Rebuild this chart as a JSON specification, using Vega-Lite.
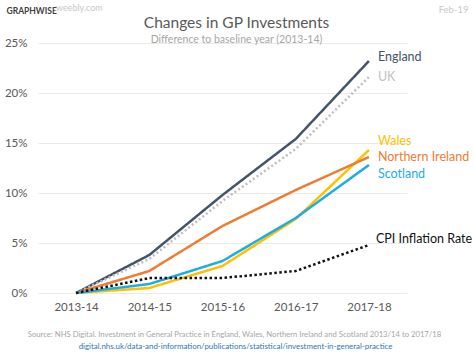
{
  "$schema": "https://vega.github.io/schema/vega-lite/v6.json",
  "width": 369,
  "height": 250,
  "autosize": {"type": "none"},
  "padding": {"left": 38, "top": 43, "right": 67, "bottom": 62},
  "background": "white",
  "config": {"view": {"stroke": null}, "font": "Lato"},
  "title": {
    "text": "Changes in GP Investments",
    "subtitle": "Difference to baseline year (2013-14)",
    "anchor": "middle",
    "frame": "group",
    "dx": 14,
    "dy": 44,
    "font": "Lato",
    "fontSize": 15.5,
    "fontWeight": "normal",
    "color": "#595959",
    "subtitleFont": "Lato",
    "subtitleFontSize": 10.5,
    "subtitleColor": "#A6A6A6",
    "subtitlePadding": 3,
    "offset": 3
  },
  "data": {
    "values": [
      {"series": "England", "year": "2013-14", "value": 0},
      {"series": "England", "year": "2014-15", "value": 3.8},
      {"series": "England", "year": "2015-16", "value": 9.8},
      {"series": "England", "year": "2016-17", "value": 15.4},
      {"series": "England", "year": "2017-18", "value": 23.2},
      {"series": "UK", "year": "2013-14", "value": 0},
      {"series": "UK", "year": "2014-15", "value": 3.4},
      {"series": "UK", "year": "2015-16", "value": 9.2},
      {"series": "UK", "year": "2016-17", "value": 14.4},
      {"series": "UK", "year": "2017-18", "value": 21.6},
      {"series": "Wales", "year": "2013-14", "value": 0},
      {"series": "Wales", "year": "2014-15", "value": 0.5},
      {"series": "Wales", "year": "2015-16", "value": 2.7},
      {"series": "Wales", "year": "2016-17", "value": 7.4},
      {"series": "Wales", "year": "2017-18", "value": 14.3},
      {"series": "Northern Ireland", "year": "2013-14", "value": 0},
      {"series": "Northern Ireland", "year": "2014-15", "value": 2.2},
      {"series": "Northern Ireland", "year": "2015-16", "value": 6.7},
      {"series": "Northern Ireland", "year": "2016-17", "value": 10.3},
      {"series": "Northern Ireland", "year": "2017-18", "value": 13.6},
      {"series": "Scotland", "year": "2013-14", "value": 0},
      {"series": "Scotland", "year": "2014-15", "value": 0.9},
      {"series": "Scotland", "year": "2015-16", "value": 3.2},
      {"series": "Scotland", "year": "2016-17", "value": 7.5},
      {"series": "Scotland", "year": "2017-18", "value": 12.8},
      {"series": "CPI Inflation Rate", "year": "2013-14", "value": 0},
      {"series": "CPI Inflation Rate", "year": "2014-15", "value": 1.5},
      {"series": "CPI Inflation Rate", "year": "2015-16", "value": 1.5},
      {"series": "CPI Inflation Rate", "year": "2016-17", "value": 2.2},
      {"series": "CPI Inflation Rate", "year": "2017-18", "value": 4.8}
    ]
  },
  "layer": [
    {
      "mark": {"type": "line", "strokeWidth": 2.5},
      "encoding": {
        "x": {
          "field": "year",
          "type": "ordinal",
          "scale": {"type": "point", "padding": 0.52},
          "axis": {
            "orient": "bottom",
            "labelAngle": 0,
            "labelFontSize": 11.5,
            "labelColor": "#595959",
            "labelPadding": 8,
            "ticks": false,
            "domain": false,
            "grid": false,
            "title": "Source: NHS Digital.  Investment in General Practice in England, Wales, Northern Ireland and Scotland 2013/14 to 2017/18",
            "titleFontSize": 7.7,
            "titleFontWeight": "normal",
            "titleColor": "#A6A6A6",
            "titleX": 196,
            "titleY": 43,
            "titleAlign": "center",
            "titleBaseline": "alphabetic"
          }
        },
        "y": {
          "field": "value",
          "type": "quantitative",
          "scale": {"domain": [0, 25], "nice": false},
          "axis": {
            "values": [0, 5, 10, 15, 20, 25],
            "labelExpr": "datum.value + '%'",
            "labelFontSize": 11.5,
            "labelColor": "#595959",
            "labelPadding": 11,
            "ticks": false,
            "domain": false,
            "grid": true,
            "gridColor": "#EAEAEA",
            "gridWidth": 1,
            "title": "GRAPHWISE",
            "titleAngle": 0,
            "titleAlign": "left",
            "titleBaseline": "alphabetic",
            "titleX": -32,
            "titleY": -30,
            "titleFontSize": 8.5,
            "titleFontWeight": "bold",
            "titleColor": "#404040"
          }
        },
        "color": {
          "field": "series",
          "type": "nominal",
          "scale": {
            "domain": ["England", "UK", "Wales", "Northern Ireland", "Scotland", "CPI Inflation Rate"],
            "range": ["#44546A", "#BFBFBF", "#FFC000", "#ED7D31", "#1CADE4", "#111111"]
          },
          "legend": {
            "orient": "none",
            "legendX": 16,
            "legendY": -39,
            "title": ".weebly.com",
            "titleFontSize": 9,
            "titleFontWeight": "normal",
            "titleColor": "#C8C8C8",
            "symbolOpacity": 0,
            "labelOpacity": 0,
            "symbolSize": 1,
            "labelFontSize": 1,
            "rowPadding": 0,
            "padding": 0
          }
        },
        "strokeDash": {
          "field": "series",
          "type": "nominal",
          "scale": {
            "domain": ["England", "UK", "Wales", "Northern Ireland", "Scotland", "CPI Inflation Rate"],
            "range": [[1, 0], [2, 2.5], [1, 0], [1, 0], [1, 0], [2.5, 2.5]]
          },
          "legend": null
        },
        "order": {"field": "year"}
      }
    },
    {
      "transform": [{"filter": "datum.year == '2017-18'"}],
      "encoding": {
        "x": {
          "field": "year",
          "type": "ordinal",
          "axis": {
            "orient": "bottom",
            "labels": false,
            "ticks": false,
            "domain": false,
            "grid": false,
            "title": "digital.nhs.uk/data-and-information/publications/statistical/investment-in-general-practice",
            "titleFontSize": 7.9,
            "titleFontWeight": "normal",
            "titleColor": "#2E75B6",
            "titleX": 197,
            "titleY": 55,
            "titleAlign": "center",
            "titleBaseline": "alphabetic"
          }
        },
        "y": {
          "field": "value",
          "type": "quantitative",
          "scale": {"domain": [0, 25], "nice": false},
          "axis": {
            "orient": "right",
            "labels": false,
            "ticks": false,
            "domain": false,
            "grid": false,
            "title": "Feb-19",
            "titleAngle": 0,
            "titleAlign": "right",
            "titleBaseline": "alphabetic",
            "titleX": 61,
            "titleY": -31,
            "titleFontSize": 9.5,
            "titleFontWeight": "normal",
            "titleColor": "#C8C8C8"
          }
        },
        "color": {"field": "series", "type": "nominal"},
        "text": {"field": "series", "type": "nominal"}
      },
      "layer": [
        {"transform": [{"filter": "datum.series == 'England'"}], "mark": {"type": "text", "align": "left", "baseline": "middle", "fontSize": 12.5, "dx": 9, "dy": -4}},
        {"transform": [{"filter": "datum.series == 'UK'"}], "mark": {"type": "text", "align": "left", "baseline": "middle", "fontSize": 12.5, "dx": 9, "dy": 0}},
        {"transform": [{"filter": "datum.series == 'Wales'"}], "mark": {"type": "text", "align": "left", "baseline": "middle", "fontSize": 12.5, "dx": 9, "dy": -9}},
        {"transform": [{"filter": "datum.series == 'Northern Ireland'"}], "mark": {"type": "text", "align": "left", "baseline": "middle", "fontSize": 12.5, "dx": 9, "dy": 0}},
        {"transform": [{"filter": "datum.series == 'Scotland'"}], "mark": {"type": "text", "align": "left", "baseline": "middle", "fontSize": 12.5, "dx": 9, "dy": 9}},
        {"transform": [{"filter": "datum.series == 'CPI Inflation Rate'"}], "mark": {"type": "text", "align": "left", "baseline": "middle", "fontSize": 12.5, "dx": 7, "dy": -6, "color": "#404040"}}
      ]
    }
  ],
  "resolve": {"axis": {"x": "independent", "y": "independent"}}
}
